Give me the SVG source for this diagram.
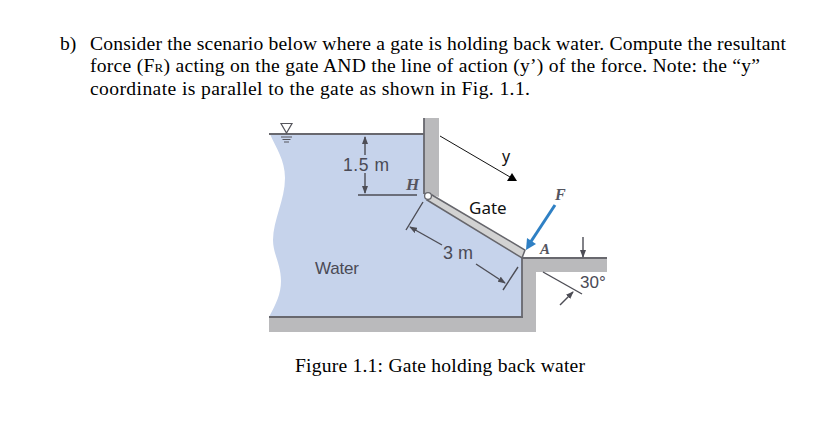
<svg xmlns="http://www.w3.org/2000/svg" width="826" height="427" viewBox="0 0 826 427">
<style>
.t{font-family:"Liberation Serif","Times New Roman",serif;font-size:19.6px;fill:#000}
.l{font-family:"Liberation Sans",Arial,sans-serif;fill:#4a4a55}
.c{font-family:"Noto Sans","Open Sans",sans-serif;fill:#111}
.i{font-family:"Liberation Serif",serif;font-style:italic;font-weight:bold;fill:#55555f}
.d{stroke:#4d4d55;stroke-width:1.4;fill:none}
</style>
<defs>
<marker id="ah" markerWidth="8" markerHeight="6" refX="7" refY="3" orient="auto" markerUnits="userSpaceOnUse"><path d="M0,0L8,3L0,6Z" fill="#4d4d55"/></marker>
</defs>
<rect width="826" height="427" fill="#fff"/>
<g id="question">
<text class="t" x="60" y="50">b)</text>
<text class="t" x="90" y="50" textLength="696" lengthAdjust="spacing">Consider the scenario below where a gate is holding back water. Compute the resultant</text>
<text class="t" x="90" y="72" textLength="670" lengthAdjust="spacing">force (F<tspan font-size="13">R</tspan>) acting on the gate AND the line of action (y’) of the force. Note: the “y”</text>
<text class="t" x="90" y="95" textLength="440" lengthAdjust="spacing">coordinate is parallel to the gate as shown in Fig. 1.1.</text>
</g>
<g id="water">
<path d="M270,134H424V196L428,196L524,257V317H269C276,304 281,294 281,281C281,264 273,254 273,240C273,220 285,200 285,178C285,160 276,148 270,134Z" fill="#c6d3eb"/>
</g>
<g id="structure">
<path d="M424,118H439V197L432,195L428,196H424Z" fill="#bababc"/>
<path d="M522,258H607V272H536V332H269V317H522Z" fill="#bababc"/>
<path d="M269,134H424M424,118V194M522,258H607M522,258V317" fill="none" stroke="#68686e" stroke-width="1.8"/>
<path d="M269,317H523" stroke="#68686e" stroke-width="2.2" fill="none"/>
</g>
<g id="gate">
<path d="M432,195L525,250L522,258L427,200Z" fill="#d2d2d2" stroke="#66666c" stroke-width="1.5"/>
<circle cx="428" cy="196" r="3.4" fill="#fff" stroke="#66666c" stroke-width="1.3"/>
</g>
<g id="surface-symbol">
<path d="M281,123.500H292L286.500,133Z" fill="#fff" stroke="#55555c" stroke-width="1.2"/>
<path d="M281,137H292M282.500,139.500H290.500M284,142H289" stroke="#55555c" stroke-width="1"/>
</g>
<g id="connectors">
<path class="d" d="M358,195H417"/>
<path class="d" d="M365,155V137" marker-end="url(#ah)"/>
<path class="d" d="M365,173V193" marker-end="url(#ah)"/>
<path class="d" d="M423,202L406,230M518,267L503,290"/>
<path class="d" d="M442,245L410,227" marker-end="url(#ah)"/>
<path class="d" d="M476,264L505,283" marker-end="url(#ah)"/>
<path class="d" d="M583,237V257" marker-end="url(#ah)"/>
<path class="d" d="M543,272L582,294"/>
<path class="d" d="M560,305L573,292" marker-end="url(#ah)"/>
<path d="M440,136L510,177" stroke="#111" stroke-width="1" fill="none"/>
<path d="M512,173L507,181L517,181Z" fill="#000"/>
<path d="M555,205L528,246" stroke="#2f80c4" stroke-width="3" fill="none"/>
<path d="M526,250L527,238L536,244Z" fill="#2f80c4"/>
</g>
<g id="labels">
<text class="l" x="343" y="171" textLength="46" font-size="17.500">1.5 m</text>
<text class="i" x="406" y="190" font-size="17">H</text>
<text class="c" x="502" y="162" font-size="16">y</text>
<text class="c" x="469" y="214" font-size="17">Gate</text>
<text class="i" x="555" y="200" font-size="16">F</text>
<text class="i" x="540" y="254" font-size="15">A</text>
<text class="l" x="443" y="259" font-size="18">3 m</text>
<text class="l" x="315" y="274" textLength="44" font-size="17">Water</text>
<text class="l" x="580" y="288" font-size="17">30°</text>
</g>
<g id="caption">
<text class="t" x="295" y="372" textLength="290" lengthAdjust="spacing">Figure 1.1: Gate holding back water</text>
</g>
</svg>
